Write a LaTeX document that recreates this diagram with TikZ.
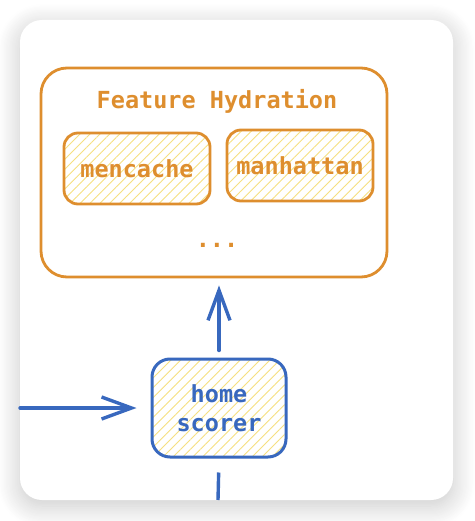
\documentclass[tikz,border=0pt]{standalone}
\usepackage{fontspec}
\setmonofont{DejaVu Sans Mono}
\usetikzlibrary{arrows.meta,patterns.meta,shadows.blur}
\definecolor{hydorange}{RGB}{222,142,46}
\definecolor{scoreblue}{RGB}{56,104,190}
\definecolor{hatchyellow}{RGB}{246,224,128}

\begin{document}
\begin{tikzpicture}[x=1pt, y=-1pt,
    font=\ttfamily\bfseries\fontsize{23.5}{29}\selectfont,
    hatched/.style={pattern={Lines[angle=45,distance=7pt,line width=0.9pt]}, pattern color=hatchyellow},
    store/.style={draw=hydorange, line width=2.8pt, rounded corners=14pt, hatched,
        minimum width=146pt, minimum height=71pt, text=hydorange},
    link/.style={scoreblue, line width=3.4pt, line cap=round, -{Straight Barb[length=30pt,width=22pt]}}]
                \useasboundingbox (0,0) rectangle (474,521);
                % card
                \fill[white, rounded corners=22pt, blur shadow={shadow xshift=0pt, shadow yshift=-6pt, shadow blur radius=22pt, shadow blur steps=20, shadow opacity=22}]
                    (20,20) rectangle (453,500);

                \node (fh) [draw=hydorange, line width=2.8pt, rounded corners=26pt, minimum width=346pt, minimum height=209pt] at (214,172.5) {};
                \node (title) [text=hydorange] at (217,101) {Feature Hydration};
                \node (mc) [store] at (137,168.5) {mencache};
                \node (mh) [store] at (300,165.5) {manhattan};
                \node (more) [text=hydorange, anchor=base] at (217,247) {...};

                \node (hs) [draw=scoreblue, line width=3pt, rounded corners=18pt, hatched, minimum width=134pt, minimum height=98pt,
                    text=scoreblue, align=center] at (219,408) {home\\scorer};

                \coordinate (in) at (20,408);
                \coordinate (out) at (218,500);

                \draw[link, shorten <=7pt, shorten >=7pt] (hs.north) -- (hs.north |- fh.south);
                \draw[link, shorten >=14pt] (in) -- (hs.west);
                \draw[scoreblue, line width=3.4pt, shorten >=14pt] (out) -- (hs.south);
            \end{tikzpicture}
\end{document}
